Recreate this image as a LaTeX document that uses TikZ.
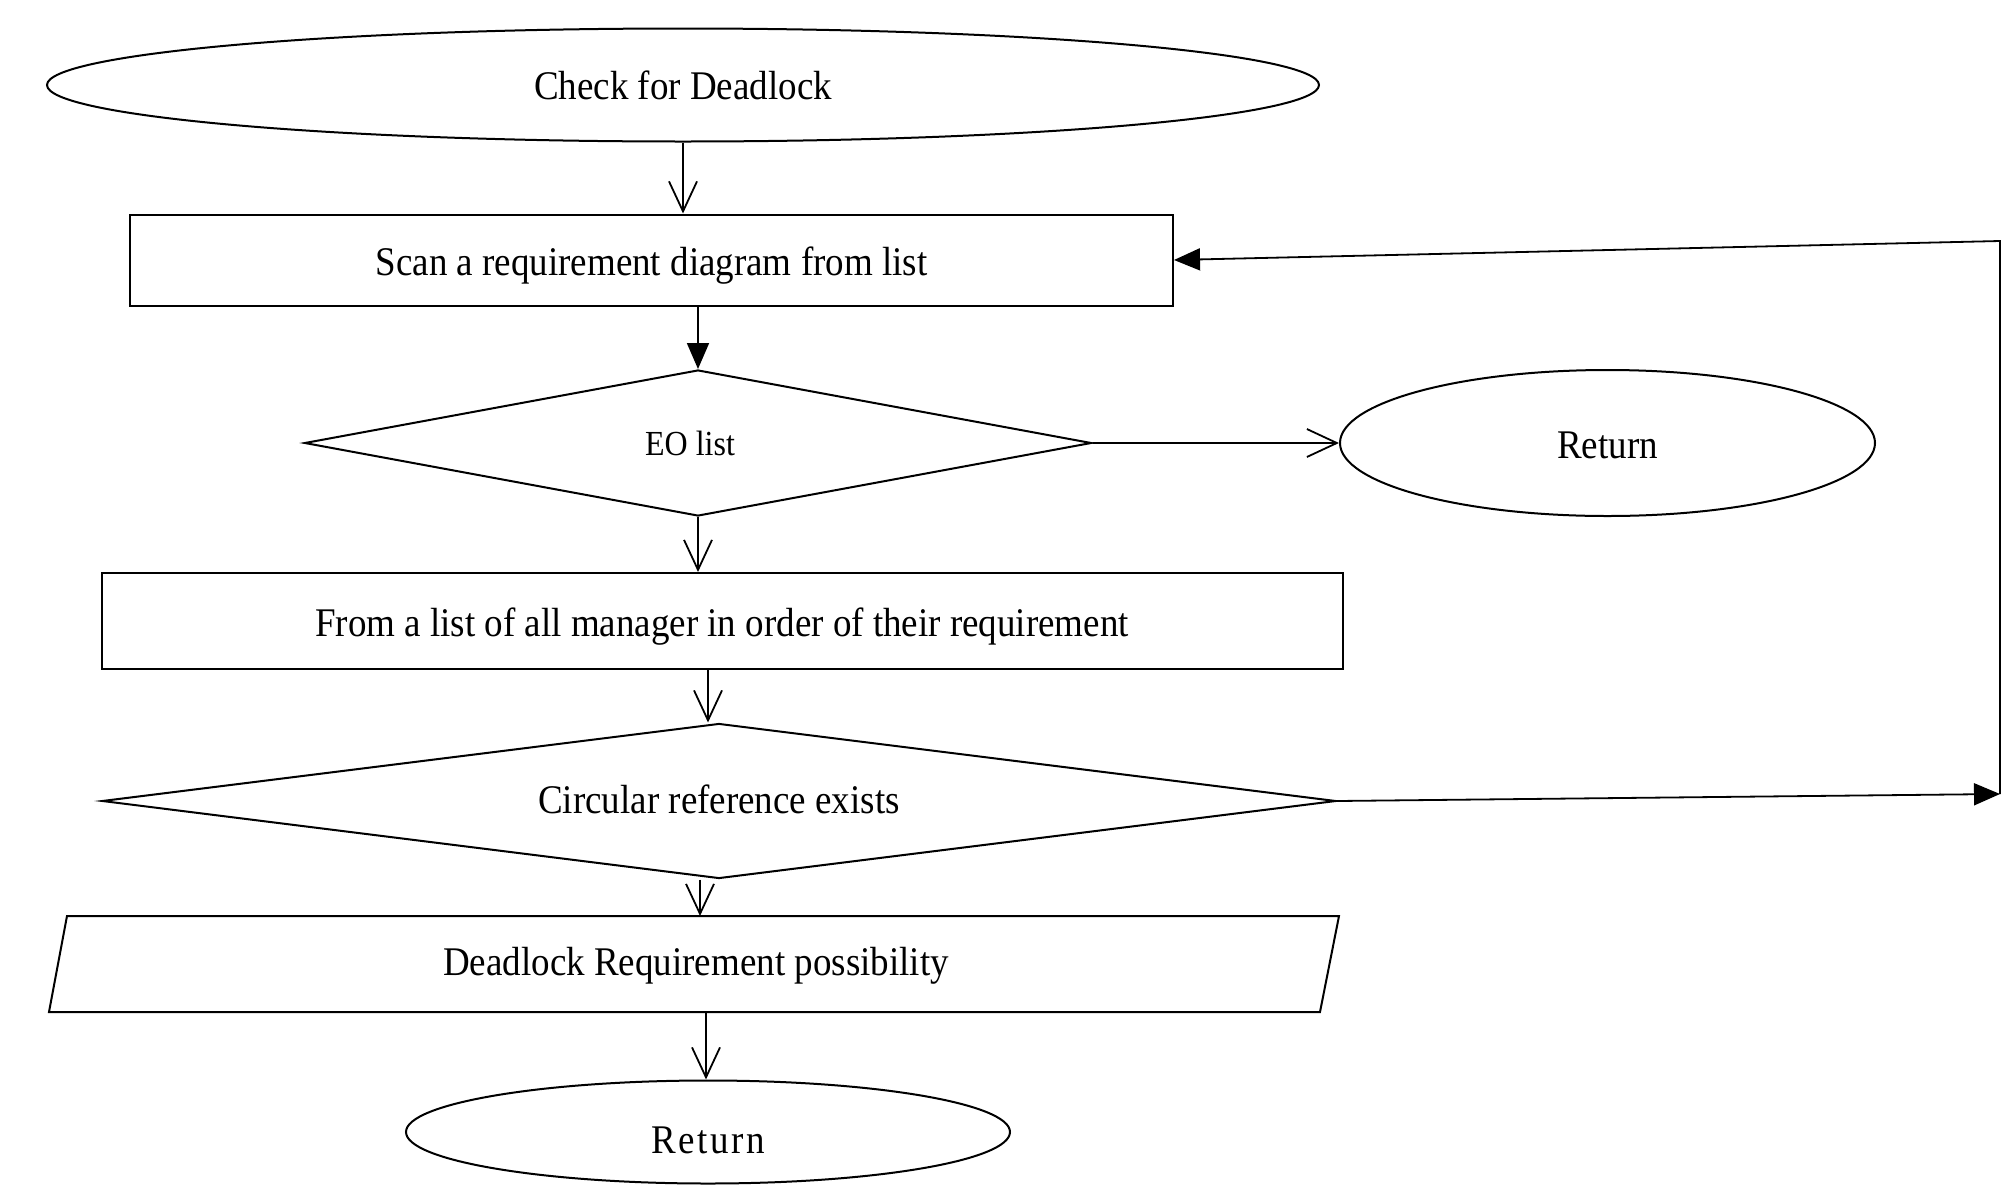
\documentclass[tikz,border=0pt]{standalone}
\usepackage{fontspec}
\setmainfont{Liberation Serif}
\usetikzlibrary{shapes.geometric,arrows.meta}
\newcommand{\tx}[1]{\scalebox{1}[1.1]{#1}}
\begin{document}
\begin{tikzpicture}[x=1pt,y=-1pt,
  boxbase/.style={draw=black, line width=2pt, inner sep=0pt, font=\fontsize{37}{44}\selectfont},
  term/.style={boxbase, ellipse},
  proc/.style={boxbase, rectangle},
  dec/.style={boxbase, diamond},
  con/.style={line width=1.8pt},
  openarrow/.style={con, -{Straight Barb[length=30pt,width=28pt]}},
  fillarrow/.style={con, -{Triangle[length=26pt,width=22pt]}}
]
\useasboundingbox (0,0) rectangle (2014,1184);

\node[term, minimum width=1272pt, minimum height=113pt] (start) at (683,85) {\tx{Check for Deadlock}};
\node[proc, minimum width=1043pt, minimum height=91pt, text height=40pt, text depth=9pt] (scan) at (651.5,260) {\tx{Scan a requirement diagram from list}};
\node[dec, minimum width=787pt, minimum height=146pt, shape aspect=5.4, font=\fontsize{32}{38}\selectfont] (eo) at (698,443) {\tx{EO list}\hspace*{16pt}};
\node[term, minimum width=535pt, minimum height=146pt, text height=31pt, text depth=0pt] (ret1) at (1607.5,443) {\tx{Return}};
\node[proc, minimum width=1241pt, minimum height=96pt, text height=40pt, text depth=9pt] (list) at (722,621) {\tx{From a list of all manager in order of their requirement}};
\node[dec, minimum width=1234pt, minimum height=155pt, shape aspect=8, text height=24pt, text depth=0pt] (circ) at (719,801) {\tx{Circular reference exists}};

\coordinate (pBL) at (49,1012);
\coordinate (pTL) at (67,916);
\coordinate (pTR) at (1339,916);
\coordinate (pBR) at (1320,1012);
\draw[line width=2pt] (pBL) -- (pTL) -- (pTR) -- (pBR) -- cycle;
\node[font=\fontsize{37}{44}\selectfont, inner sep=0pt, text height=36pt, text depth=9pt] (poss) at (696,962) {\tx{Deadlock Requirement possibility}};
\coordinate (pT) at (700,916);
\coordinate (pB) at (706,1012);

\node[term, minimum width=604pt, minimum height=103pt, text height=43pt, text depth=0pt] (ret2) at (708,1132) {\tx{\addfontfeature{LetterSpace=7}Return}};

\coordinate (a5) at (708,0);
\coordinate (lb) at (2000,794);
\coordinate (lt) at (2000,241);

\draw[openarrow] (start.south) -- (start.south |- scan.north);
\draw[fillarrow] (scan.south -| eo.north) -- (eo.north);
\draw[openarrow] (eo.east) -- (ret1.west);
\draw[openarrow] (eo.south) -- (eo.south |- list.north);
\draw[openarrow] (list.south -| a5) -- (circ.north -| a5);
\draw[openarrow] (circ.south -| pT) -- (pT);
\draw[openarrow] (pB) -- (pB |- ret2.north);
\draw[fillarrow] (circ.east) -- (lb);
\draw[fillarrow] (lb) -- (lt) -- (scan.east);
\end{tikzpicture}
\end{document}
